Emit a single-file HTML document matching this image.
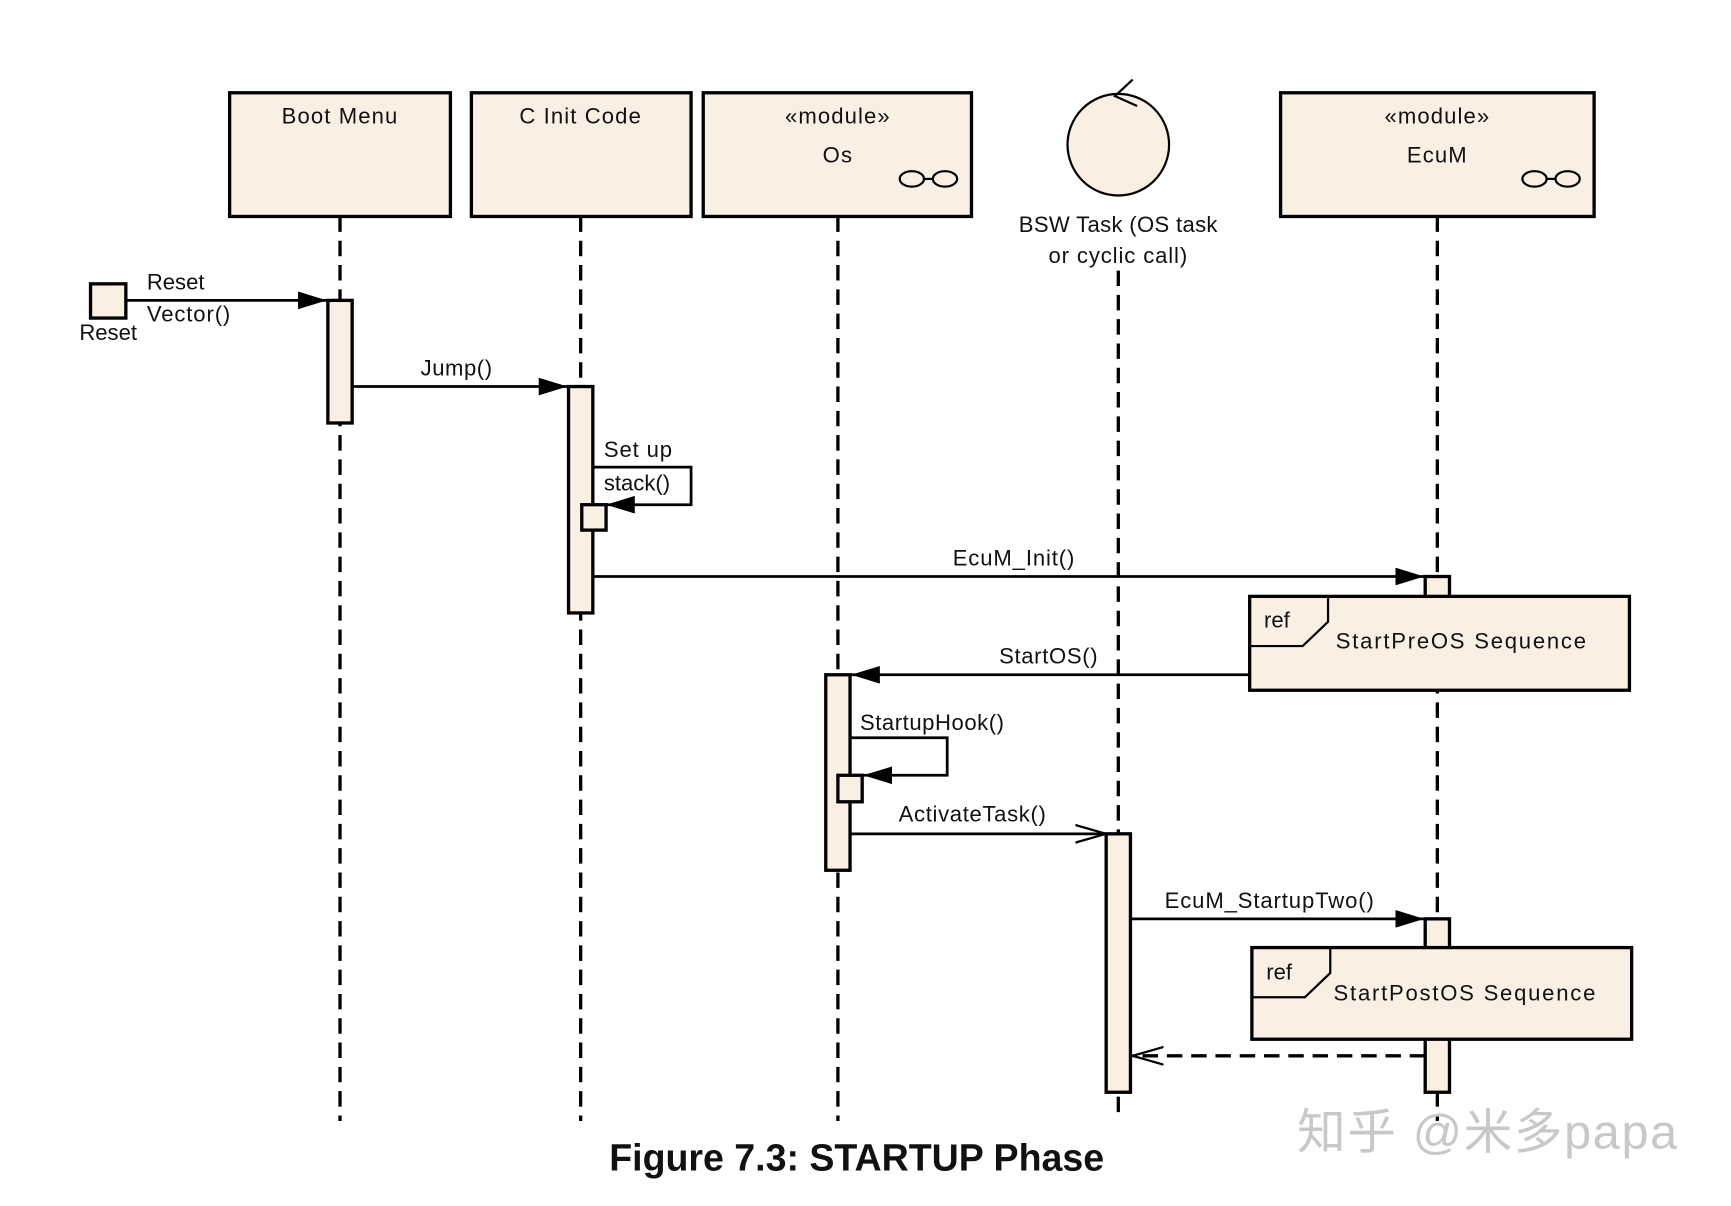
<!DOCTYPE html>
<html><head><meta charset="utf-8"><style>
html,body{margin:0;padding:0;background:#fff;}
svg{display:block;}
text{font-family:"Liberation Sans","Noto Sans CJK SC",sans-serif;fill:#111;}
</style></head><body>
<svg width="1731" height="1206" viewBox="0 0 1568 1092" preserveAspectRatio="none" xmlns="http://www.w3.org/2000/svg">
<defs>
<marker id="f" markerWidth="28" markerHeight="20" refX="26" refY="10" orient="auto" markerUnits="userSpaceOnUse"><path d="M0,2 L26,10 L0,18 z" fill="#000"/></marker>
<marker id="o" markerWidth="30" markerHeight="20" refX="28" refY="10" orient="auto" markerUnits="userSpaceOnUse"><path d="M0,2 L28,10 L0,18" fill="none" stroke="#000" stroke-width="2"/></marker>
</defs>
<g stroke="#000" stroke-width="3" fill="#f9efe2">
<rect x="208" y="84" width="200" height="112"/>
<rect x="427" y="84" width="199" height="112"/>
<rect x="637" y="84" width="243" height="112"/>
<rect x="1160" y="84" width="284" height="112"/>
<circle cx="1013" cy="131" r="46" stroke-width="2"/>
</g>
<path d="M1026,72 L1010,87 L1030,96" fill="none" stroke="#000" stroke-width="2"/>
<g fill="none" stroke="#000" stroke-width="2">
<ellipse cx="826" cy="162" rx="11" ry="7"/><ellipse cx="856" cy="162" rx="11" ry="7"/><line x1="837" y1="162" x2="845" y2="162"/>
<ellipse cx="1390" cy="162" rx="11" ry="7"/><ellipse cx="1420" cy="162" rx="11" ry="7"/><line x1="1401" y1="162" x2="1409" y2="162"/>
</g>
<g font-size="20" text-anchor="middle" letter-spacing="1">
<text x="308" y="112">Boot Menu</text>
<text x="526" y="112">C Init Code</text>
<text x="759" y="112">«module»</text>
<text x="759" y="147">Os</text>
<text x="1302" y="112">«module»</text>
<text x="1302" y="147">EcuM</text>
<text x="1013" y="210" letter-spacing="0.3">BSW Task (OS task</text>
<text x="1013" y="238" letter-spacing="0.8">or cyclic call)</text>
</g>
<g stroke="#000" stroke-width="3" stroke-dasharray="14,8" fill="none">
<line x1="308" y1="196" x2="308" y2="1015"/>
<line x1="526" y1="196" x2="526" y2="1015"/>
<line x1="759" y1="196" x2="759" y2="1015"/>
<line x1="1013" y1="245" x2="1013" y2="1015"/>
<line x1="1302" y1="196" x2="1302" y2="1015"/>
</g>
<rect x="82" y="257" width="32" height="31" fill="#f9efe2" stroke="#000" stroke-width="3"/>
<text x="98" y="308" font-size="20" text-anchor="middle">Reset</text>
<text x="133" y="262" font-size="20">Reset</text>
<text x="133" y="291" font-size="20" letter-spacing="0.8">Vector()</text>
<g stroke="#000" stroke-width="2.5" fill="none">
<line x1="114" y1="272" x2="296" y2="272" marker-end="url(#f)"/>
<line x1="319" y1="350" x2="514" y2="350" marker-end="url(#f)"/>
<polyline points="537,423 626,423 626,457 549,457" marker-end="url(#f)"/>
<line x1="537" y1="522" x2="1290" y2="522" marker-end="url(#f)"/>
<line x1="1132" y1="611" x2="771" y2="611" marker-end="url(#f)"/>
<polyline points="770,668 858,668 858,702 782,702" marker-end="url(#f)"/>
<line x1="770" y1="755" x2="1002" y2="755" marker-end="url(#o)"/>
<line x1="1024" y1="832" x2="1290" y2="832" marker-end="url(#f)"/>
<line x1="1291" y1="956" x2="1026" y2="956" stroke-width="3" stroke-dasharray="14,8" marker-end="url(#o)"/>
</g>
<g stroke="#000" stroke-width="3" fill="#f9efe2">
<rect x="297" y="272" width="22" height="111"/>
<rect x="515" y="350" width="22" height="205"/>
<rect x="527" y="457" width="22" height="23"/>
<rect x="1291" y="522" width="22" height="40"/>
<rect x="748" y="611" width="22" height="177"/>
<rect x="759" y="702" width="22" height="24"/>
<rect x="1002" y="755" width="22" height="234"/>
<rect x="1291" y="832" width="22" height="157"/>
<rect x="1132" y="540" width="344" height="85"/>
<rect x="1134" y="858" width="344" height="83"/>
</g>
<g stroke="#000" stroke-width="2" fill="none">
<polyline points="1132,585 1180,585 1203,563 1203,540"/>
<polyline points="1134,903 1182,903 1205,881 1205,858"/>
</g>
<g font-size="20">
<text x="381" y="340" letter-spacing="0.5">Jump()</text>
<text x="547" y="414" letter-spacing="0.8">Set up</text>
<text x="547" y="444">stack()</text>
<text x="863" y="512" letter-spacing="0.8">EcuM_Init()</text>
<text x="1145" y="568">ref</text>
<text x="1210" y="587" letter-spacing="1.6">StartPreOS Sequence</text>
<text x="905" y="601" letter-spacing="0.6">StartOS()</text>
<text x="779" y="661" letter-spacing="0.5">StartupHook()</text>
<text x="814" y="744" letter-spacing="0.6">ActivateTask()</text>
<text x="1055" y="822" letter-spacing="0.8">EcuM_StartupTwo()</text>
<text x="1147" y="887">ref</text>
<text x="1208" y="906" letter-spacing="1.6">StartPostOS Sequence</text>
</g>
<text x="776" y="1060" font-size="34" font-weight="bold" text-anchor="middle">Figure 7.3: STARTUP Phase</text>
<text x="1175" y="1040" font-size="44" letter-spacing="1.5" style="fill:#c8c8c8">知乎 @米多papa</text>
</svg>
</body></html>
